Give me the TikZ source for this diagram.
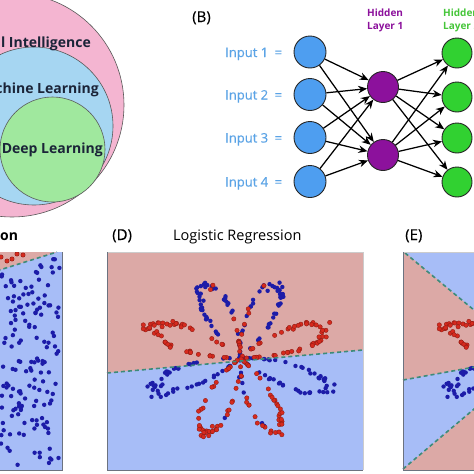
\documentclass[tikz,border=0pt]{standalone}
\usepackage{fontspec}
\setmainfont{Open Sans}
\newfontfamily\lightb[FakeBold=0.3]{Open Sans}
\usetikzlibrary{arrows.meta}
\definecolor{vpink}{HTML}{F4B5D1}
\definecolor{vblue}{HTML}{A6D6F2}
\definecolor{vgreen}{HTML}{A0E89E}
\definecolor{vtext}{HTML}{1B2438}
\definecolor{inlab}{HTML}{5AA3E6}
\definecolor{incol}{HTML}{4E9EF0}
\definecolor{hpurple}{HTML}{8C119C}
\definecolor{hgreen}{HTML}{31D131}
\definecolor{hgreenlab}{HTML}{46C63A}
\definecolor{bpink}{HTML}{DCA9A6}
\definecolor{bblue}{HTML}{A7BDF7}
\definecolor{dred}{HTML}{D62A1E}
\definecolor{dredline}{HTML}{8E1A12}
\definecolor{dblue}{HTML}{1C1CA8}
\definecolor{dashcol}{HTML}{3D8B7A}
\definecolor{framecol}{HTML}{6C7380}
\tikzset{
  vennline/.style={draw=black!65, line width=0.6pt},
  venntext/.style={font=\bfseries\fontsize{14}{14}\selectfont, text=vtext, inner sep=0pt, anchor=base east},
  inlabel/.style={font=\lightb\fontsize{13}{13}\selectfont, text=inlab, inner sep=0pt, anchor=base west},
  neuron/.style={circle, draw=black!85, line width=0.9pt, inner sep=0pt},
  innode/.style={neuron, fill=incol, minimum size=32pt},
  h1node/.style={neuron, fill=hpurple, minimum size=31pt},
  h2node/.style={neuron, fill=hgreen, minimum size=30pt},
  hlabel/.style={font=\bfseries\fontsize{10}{10}\selectfont, inner sep=0pt, anchor=base west},
  conn/.style={-{Stealth[length=9pt,width=7.5pt]}, line width=1.25pt, black},
  paneltag/.style={font=\lightb\fontsize{15}{15}\selectfont, inner sep=0pt, anchor=base west},
  dline/.style={dashcol, line width=1.6pt, dash pattern=on 4pt off 3pt},
  bdot/.style={fill=dblue},
  rdot/.style={fill=dred, draw=dredline, line width=0.35pt},
}
\newcommand\flowerpts[2]{%
  \pgfmathsetseed{5}%
  \foreach \j/\st in {0/bdot,1/rdot}{%
    \foreach \i in {0,...,199}{%
      \pgfmathsetmacro\T{\j*178.76+178.76*(\i/199)+11.46*(rand+rand+rand)}%
      \pgfmathsetmacro\R{4*sin(4*\T)+0.2*(rand+rand+rand)}%
      \path[\st] ({#1+23.5*\R*sin(\T)},{#2-20*\R*cos(\T)}) circle (2.2pt);%
    }}}
\begin{document}
\begin{tikzpicture}[x=1pt,y=-1pt]
\useasboundingbox (0,0) rectangle (474,474);
\clip (0,0) rectangle (474,474);
\fill[white] (0,0) rectangle (474,474);

% ---------- (A) Venn ----------
\path[vennline, fill=vpink] (12,105) circle (112pt);
\path[vennline, fill=vblue] (34,126) circle (79pt);
\path[vennline, fill=vgreen] (52.5,149.5) circle (52.5pt);
\node[venntext] (ai) at (91,47) {l Intelligence};
\node[venntext] (ml) at (99,93) {chine Learning};
\node[venntext] (dl) at (103,153) {Deep Learning};

% ---------- (B) Network ----------
\node[paneltag] (tagB) at (192,22) {(B)};
\node[innode] (i1) at (310,52) {};
\node[innode] (i2) at (310,94.5) {};
\node[innode] (i3) at (310,137.5) {};
\node[innode] (i4) at (310,181.5) {};
\node[inlabel] (l1) at (225,57) {Input 1\,\,\,=};
\node[inlabel] (l2) at (225,99.5) {Input 2\,\,\,=};
\node[inlabel] (l3) at (225,142.5) {Input 3\,\,\,=};
\node[inlabel] (l4) at (225,186.5) {Input 4\,\,\,=};
\node[h1node] (h1) at (383,87) {};
\node[h1node] (h2) at (383,155) {};
\node[h2node] (o1) at (457,53) {};
\node[h2node] (o2) at (457,97) {};
\node[h2node] (o3) at (457,138) {};
\node[h2node] (o4) at (457,182) {};
\node[hlabel, text=hpurple] (hl1a) at (367,16) {Hidden};
\node[hlabel, text=hpurple] (hl1b) at (367,29) {Layer 1};
\node[hlabel, text=hgreenlab] (hl2a) at (443,16) {Hidden};
\node[hlabel, text=hgreenlab] (hl2b) at (443,29) {Layer 2};
\foreach \a in {i1,i2,i3,i4}{\foreach \b in {h1,h2}{\draw[conn] (\a) -- (\b);}}
\foreach \a in {h1,h2}{\foreach \b in {o1,o2,o3,o4}{\draw[conn] (\a) -- (\b);}}

% ---------- (C) ----------
\node[paneltag, font=\bfseries\fontsize{14}{14}\selectfont] (tagC) at (0,240) {on};
\fill[bblue] (-10,252) rectangle (62,470);
\fill[bpink] (-10,252) -- (57,252) -- (-10,273) -- cycle;
\begin{scope}
\clip (-10,252) rectangle (62,470);
\pgfmathsetseed{11}
\foreach \k in {1,...,150}{%
  \pgfmathsetmacro\px{1+59*rnd}%
  \pgfmathsetmacro\ly{max(270-18/57*\px,254)}%
  \pgfmathsetmacro\py{\ly+4+rnd*(464-\ly)}%
  \path[bdot] (\px,\py) circle (2.2pt);}
\foreach \p in {(1,257),(7,261),(17,254),(23,255),(12,259)}{\path[rdot] \p circle (2.2pt);}
\end{scope}
\draw[dline] (-10,273) -- (57,252);
\draw[framecol, line width=0.8pt] (62,252) -- (62,470) -- (-10,470);

% ---------- (D) ----------
\node[paneltag] (tagD) at (112,240) {(D)};
\node[paneltag, font=\fontsize{14.5}{14.5}\selectfont] (titD) at (173,240) {Logistic Regression};
\fill[bpink] (107,252) rectangle (363,470);
\fill[bblue] (107,373) -- (363,350) -- (363,470) -- (107,470) -- cycle;
\begin{scope}
\clip (107,252) rectangle (363,470);
\flowerpts{240}{358}
\end{scope}
\draw[dline] (107,373) -- (363,350);
\draw[black!20, line width=0.6pt] (107,252) -- (363,252) -- (363,470);
\draw[framecol, line width=0.9pt] (107,252) -- (107,470) -- (363,470);

% ---------- (E) ----------
\node[paneltag] (tagE) at (405,240) {(E)};
\fill[bpink] (403,252) rectangle (480,470);
\fill[bblue] (405,252) -- (480,252) -- (480,315) -- cycle;
\fill[bblue] (403,380) -- (480,366) -- (480,404) -- (403,469) -- cycle;
\begin{scope}
\clip (403,252) rectangle (480,470);
\flowerpts{536}{358}
\end{scope}
\draw[dline] (405,253) -- (480,315);
\draw[dline] (403,380) -- (480,366);
\draw[dline] (403,469) -- (480,404);
\draw[black!20, line width=0.6pt] (403,252) -- (480,252);
\draw[framecol, line width=0.9pt] (403,252) -- (403,470) -- (480,470);
\end{tikzpicture}
\end{document}
